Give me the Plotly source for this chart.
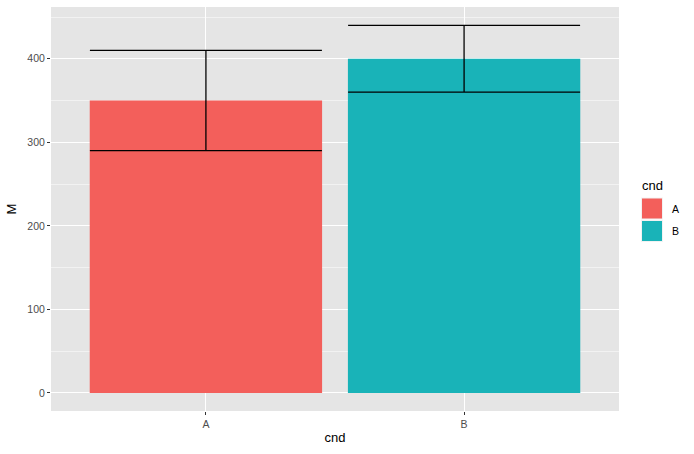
import plotly.graph_objects as go

categories = ["A", "B"]
means = [350, 400]
errors = [60, 40]
bar_colors = ["#F35F5B", "#19B3B8"]
y_ticks = [0, 100, 200, 300, 400]

fig = go.Figure()
for i, c in enumerate(categories):
    fig.add_trace(go.Bar(
        x=[c], y=[means[i]], name=c, width=0.9,
        marker=dict(color=bar_colors[i], line=dict(width=0)),
        error_y=dict(type="data", array=[errors[i]], visible=True,
                     color="black", thickness=1.3, width=116),
        showlegend=False,
    ))

font = "Liberation Sans, Arial, sans-serif"
fig.update_layout(
    width=694, height=454,
    margin=dict(l=51, r=75, t=7, b=43),
    paper_bgcolor="white", plot_bgcolor="#E5E5E5",
    bargap=0.1,
    font=dict(family=font, color="#4D4D4D", size=10.5),
    xaxis=dict(
        type="category", categoryorder="array", categoryarray=categories,
        range=[-0.6, 1.6], showgrid=True, gridcolor="white", gridwidth=1.1,
        ticks="outside", ticklen=3, tickcolor="#333333", tickwidth=1,
        tickfont=dict(size=10.5, color="#4D4D4D"),
        title=dict(text="cnd", font=dict(size=13, color="black"), standoff=4),
        zeroline=False, fixedrange=True,
    ),
    yaxis=dict(
        range=[-21.6, 462], tickvals=y_ticks,
        showgrid=True, gridcolor="white", gridwidth=1.1,
        minor=dict(tickvals=[50, 150, 250, 350, 450], showgrid=True,
                   gridcolor="#F2F2F2", gridwidth=0.6),
        ticks="outside", ticklen=3, tickcolor="#333333", tickwidth=1,
        tickfont=dict(size=10.5, color="#4D4D4D"),
        title=dict(text="M", font=dict(size=13, color="black"), standoff=7),
        zeroline=False, fixedrange=True,
    ),
)

# Legend (ggplot-style), drawn in pixel-based paper coords
W, H = 694, 454
pw = W - 51 - 75
ph = H - 7 - 43
def px(x):
    return (x - 51) / pw
def py(y):
    return (H - 43 - y) / ph

fig.add_annotation(text="cnd", xref="paper", yref="paper", x=px(640), y=py(186),
                   xanchor="left", yanchor="middle", showarrow=False,
                   font=dict(size=13, color="black", family=font))
key_top = 197.5
for i, c in enumerate(categories):
    y0 = key_top + i * 22.5
    fig.add_shape(type="rect", xref="paper", yref="paper",
                  x0=px(641), x1=px(663), y0=py(y0 + 22), y1=py(y0),
                  fillcolor="#F2F2F2", line=dict(width=0), layer="above")
    fig.add_shape(type="rect", xref="paper", yref="paper",
                  x0=px(642), x1=px(662), y0=py(y0 + 21), y1=py(y0 + 1),
                  fillcolor=bar_colors[i], line=dict(width=0), layer="above")
    fig.add_annotation(text=c, xref="paper", yref="paper", x=px(670), y=py(y0 + 11),
                       xanchor="left", yanchor="middle", showarrow=False,
                       font=dict(size=10.5, color="black", family=font))

fig.write_html("out.html", config={"displayModeBar": False},
               post_script="document.body.style.margin='0px';")
